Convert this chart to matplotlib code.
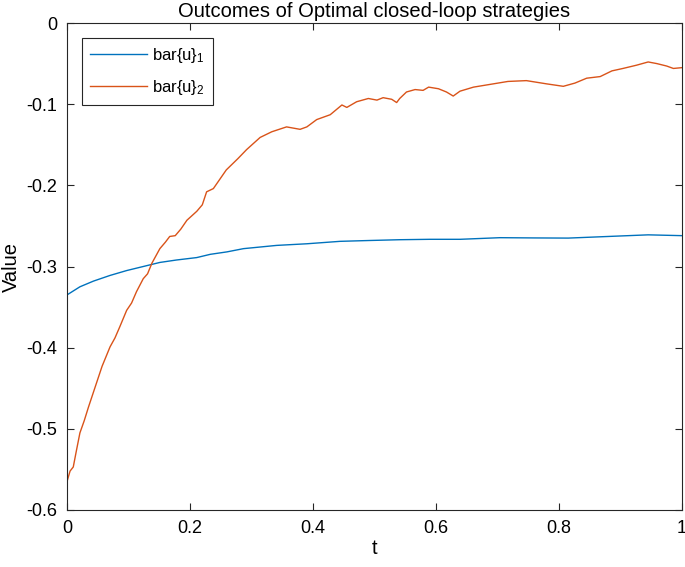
import matplotlib
matplotlib.use("Agg")
import matplotlib.pyplot as plt
from matplotlib.ticker import FuncFormatter

plt.rcParams['font.family'] = ['Liberation Sans', 'DejaVu Sans']
plt.rcParams['mathtext.default'] = 'regular'
plt.rcParams['axes.unicode_minus'] = False

t1 = [0.0, 0.021, 0.043, 0.070, 0.097, 0.124, 0.151, 0.178, 0.211, 0.233, 0.260,
      0.287, 0.314, 0.341, 0.39, 0.444, 0.49, 0.541, 0.59, 0.639, 0.704, 0.76,
      0.815, 0.88, 0.945, 1.0]
u1 = [-0.335, -0.325, -0.318, -0.311, -0.305, -0.300, -0.295, -0.292, -0.289, -0.285,
      -0.282, -0.278, -0.276, -0.274, -0.272, -0.269, -0.268, -0.267, -0.2665, -0.2665,
      -0.2645, -0.2648, -0.265, -0.263, -0.261, -0.262]

t2 = [0.0, 0.005, 0.0102, 0.015, 0.021, 0.028, 0.035, 0.046, 0.057, 0.070, 0.078, 0.086,
      0.097, 0.105, 0.113, 0.124, 0.131, 0.138, 0.151, 0.160, 0.167, 0.176, 0.185,
      0.195, 0.211, 0.220, 0.227, 0.238, 0.259, 0.278, 0.292, 0.314, 0.333, 0.357,
      0.379, 0.390, 0.406, 0.428, 0.447, 0.455, 0.471, 0.490, 0.504, 0.514, 0.528,
      0.536, 0.541, 0.552, 0.566, 0.579, 0.588, 0.604, 0.617, 0.628, 0.639, 0.661,
      0.693, 0.717, 0.747, 0.780, 0.807, 0.826, 0.845, 0.867, 0.886, 0.904, 0.926,
      0.945, 0.959, 0.975, 0.986, 1.0]
u2 = [-0.565, -0.552, -0.547, -0.528, -0.505, -0.490, -0.473, -0.448, -0.423, -0.399,
      -0.388, -0.374, -0.354, -0.345, -0.331, -0.315, -0.309, -0.296, -0.278, -0.270,
      -0.263, -0.262, -0.254, -0.243, -0.232, -0.224, -0.208, -0.204, -0.181, -0.167,
      -0.156, -0.141, -0.134, -0.128, -0.131, -0.128, -0.119, -0.113, -0.101, -0.104,
      -0.097, -0.093, -0.095, -0.092, -0.094, -0.098, -0.093, -0.085, -0.082, -0.083,
      -0.079, -0.081, -0.085, -0.090, -0.084, -0.079, -0.075, -0.072, -0.071, -0.075,
      -0.078, -0.074, -0.068, -0.066, -0.059, -0.056, -0.052, -0.048, -0.050, -0.053,
      -0.056, -0.055]

labels = [r'bar{u}$_1$', r'bar{u}$_2$']
xticks = [0, 0.2, 0.4, 0.6, 0.8, 1]
yticks = [-0.6, -0.5, -0.4, -0.3, -0.2, -0.1, 0]

fig = plt.figure(figsize=(6.85, 5.67), dpi=100)
ax = fig.add_axes([67/685, 57/567, 615/685, 487/567])
ax.plot(t1, u1, color='#0072BD', lw=1.0, label=labels[0])
ax.plot(t2, u2, color='#D95319', lw=1.0, label=labels[1])
ax.set_xlim(0, 1)
ax.set_ylim(-0.6, 0)
ax.set_xticks(xticks)
ax.set_yticks(yticks)
fmt = FuncFormatter(lambda v, p: '%g' % round(v, 4))
ax.xaxis.set_major_formatter(fmt)
ax.yaxis.set_major_formatter(fmt)
gc = '#262626'
for s in ax.spines.values():
    s.set_color(gc)
    s.set_linewidth(0.8)
ax.tick_params(direction='in', top=True, right=True, length=5, width=0.8,
               colors=gc, labelsize=13, labelcolor='black', pad=7)
ax.set_xlabel('t', fontsize=14.5, labelpad=2)
ax.set_ylabel('Value', fontsize=14.5, labelpad=4)
ax.set_title('Outcomes of Optimal closed-loop strategies', fontsize=14.5, pad=4)
leg = ax.legend(loc='upper left', bbox_to_anchor=(15/615, 1 - 15/487), fontsize=12,
                handlelength=3.4, fancybox=False, framealpha=1, edgecolor=gc,
                borderpad=0.5, labelspacing=0.75, handletextpad=0.3, borderaxespad=0)
leg.get_frame().set_linewidth(0.8)
fig.savefig('out.png', dpi=100)
